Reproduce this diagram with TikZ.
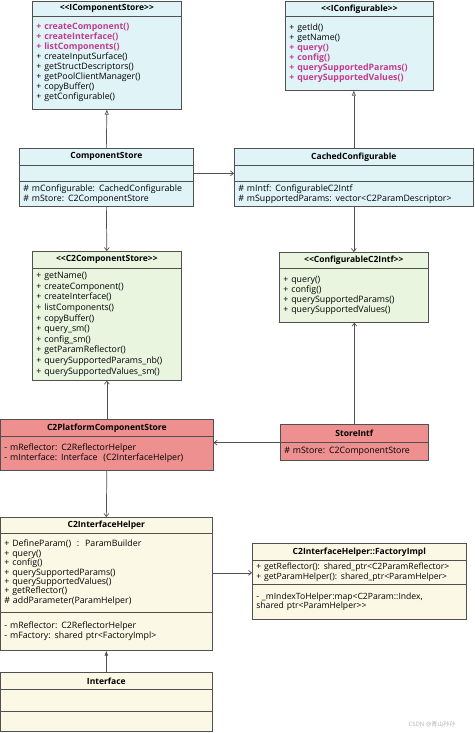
\documentclass[tikz,border=0pt]{standalone}
\usepackage{fontspec}
\setmainfont{Open Sans}
\newfontfamily\cjkfont{Noto Sans CJK SC}
\usetikzlibrary{arrows.meta}

\definecolor{cyanfill}{HTML}{E0F4F7}
\definecolor{greenfill}{HTML}{E9F5DF}
\definecolor{redfill}{HTML}{EE9090}
\definecolor{creamfill}{HTML}{FCF8E6}
\definecolor{boxline}{HTML}{505050}
\definecolor{pinktext}{HTML}{C43A8E}
\newcommand{\pk}[1]{\textcolor{pinktext}{\bfseries #1}}
\newcommand{\cln}{:\hspace{0.45em}}

\begin{document}
\begin{tikzpicture}[x=1pt,y=-1pt,
  box/.style={draw=boxline,line width=0.7pt,anchor=north west,inner xsep=4pt,inner ysep=0pt,
    align=left,font=\fontsize{8.8}{10}\selectfont},
  hd/.style={box,align=center,font=\fontsize{8.5}{10}\selectfont\bfseries},
  cy/.style={fill=cyanfill},
  gr/.style={fill=greenfill},
  rd/.style={fill=redfill},
  cr/.style={fill=creamfill},
  link/.style={draw=boxline,line width=0.7pt},
  impl/.style={link,-{Triangle[open,length=5pt,width=4pt]}},
  assoc/.style={link,-{Straight Barb[length=3pt,width=5pt]}},
  comp/.style={link,-{Latex[length=5pt,width=4pt]}}]
\useasboundingbox (0,0) rectangle (474,733);

% top row: interfaces
\node[hd,cy,text width=141pt,minimum height=15pt] (icst) at (32,1) {<{}<IComponentStore>{}>};
\node[box,cy,text width=141pt,minimum height=93pt] (icsb) at (32,16) {\pk{+ createComponent()}\\\pk{+ createInterface()}\\\pk{+ listComponents()}\\+ createInputSurface()\\+ getStructDescriptors()\\+ getPoolClientManager()\\+ copyBuffer()\\+ getConfigurable()};

\node[hd,cy,text width=140pt,minimum height=15pt] (icft) at (285,1) {<{}<IConfigurable>{}>};
\node[box,cy,text width=140pt,minimum height=74pt] (icfb) at (285,16) {+ getId()\\+ getName()\\\pk{+ query()}\\\pk{+ config()}\\\pk{+ querySupportedParams()}\\\pk{+ querySupportedValues()}};

% stores
\node[hd,cy,text width=166pt,minimum height=17pt] (cst) at (19,148) {ComponentStore};
\node[box,cy,text width=166pt,minimum height=16pt] (csm) at (19,165) {};
\node[box,cy,text width=166pt,minimum height=25pt] (csa) at (19,181) {\# mConfigurable\cln CachedConfigurable\\\# mStore\cln C2ComponentStore};

\node[hd,cy,text width=231pt,minimum height=17pt] (cct) at (234,148) {CachedConfigurable};
\node[box,cy,text width=231pt,minimum height=16pt] (ccm) at (234,165) {};
\node[box,cy,text width=231pt,minimum height=25pt] (cca) at (234,181) {\# mIntf\cln ConfigurableC2Intf\\\# mSupportedParams\cln vector<C2ParamDescriptor>};

% C2 interfaces
\node[hd,gr,text width=141pt,minimum height=17pt] (c2cst) at (32,251) {<{}<C2ComponentStore>{}>};
\node[box,gr,text width=141pt,minimum height=112pt,font=\fontsize{8.8}{10.6}\selectfont] (c2csb) at (32,268) {+ getName()\\+ createComponent()\\+ createInterface()\\+ listComponents()\\+ copyBuffer()\\+ query\_sm()\\+ config\_sm()\\+ getParamReflector()\\+ querySupportedParams\_nb()\\+ querySupportedValues\_sm()};

\node[hd,gr,text width=141pt,minimum height=16pt] (cfit) at (279,252) {<{}<ConfigurableC2Intf>{}>};
\node[box,gr,text width=141pt,minimum height=54pt] (cfib) at (279,268) {+ query()\\+ config()\\+ querySupportedParams()\\+ querySupportedValues()};

% platform store
\node[hd,rd,text width=205pt,minimum height=17pt] (c2pt) at (0,419) {C2PlatformComponentStore};
\node[box,rd,text width=205pt,minimum height=34pt] (c2pa) at (0,436) {- mReflector\cln C2ReflectorHelper\\- mInterface\cln Interface\ \ (C2InterfaceHelper)};

\node[hd,rd,text width=140pt,minimum height=18pt] (sit) at (280,424) {StoreIntf};
\node[box,rd,text width=140pt,minimum height=18pt] (sia) at (280,442) {\# mStore\cln C2ComponentStore};

% helpers
\node[hd,cr,text width=204pt,minimum height=16pt] (c2iht) at (0,517) {C2InterfaceHelper};
\node[box,cr,text width=204pt,minimum height=79pt,font=\fontsize{8.8}{9.4}\selectfont] (c2ihm) at (0,533) {+ DefineParam()\ \ :\ \ ParamBuilder\\+ query()\\+ config()\\+ querySupportedParams()\\+ querySupportedValues()\\+ getReflector()\\\# addParameter(ParamHelper)};
\node[box,cr,text width=204pt,minimum height=38pt] (c2iha) at (0,612) {- mReflector\cln C2ReflectorHelper\\- mFactory\cln shared ptr<FactoryImpl>};

\node[hd,cr,text width=206pt,minimum height=17pt] (fit) at (252,543) {C2InterfaceHelper::FactoryImpl};
\node[box,cr,text width=206pt,minimum height=24pt,font=\fontsize{8.6}{9.4}\selectfont] (fim) at (252,560) {+ getReflector()\cln shared\_ptr<C2ParamReflector>\\+ getParamHelper()\cln shared\_ptr<ParamHelper>};
\node[box,cr,text width=206pt,minimum height=35pt,font=\fontsize{8.6}{9.6}\selectfont] (fia) at (252,584) {- \_mIndexToHelper:map<C2Param::Index,\\shared ptr<ParamHelper>{}>};

\node[hd,cr,text width=204pt,minimum height=17pt] (int) at (0,672) {Interface};
\node[box,cr,text width=204pt,minimum height=22pt] (inm) at (0,689) {};
\node[box,cr,text width=204pt,minimum height=20pt] (ina) at (0,711) {};

% connectors
\draw[impl] (cst.north) -- (icsb.south);
\draw[impl] (cct.north) -- (cct.north |- icfb.south);
\draw[assoc] (csm.east) -- (ccm.west);
\draw[assoc] (csa.south) -- (c2cst.north);
\draw[assoc] (cca.south) -- (cfit.north);
\draw[assoc] (c2pt.north) -- (c2csb.south);
\draw[assoc] (sit.north) -- (sit.north |- cfib.south);
\draw[assoc] (sit.south west) -- (sit.south west -| c2pa.east);
\draw[assoc] (c2pa.south) -- (c2iht.north);
\draw[assoc] (c2ihm.east) -- (c2ihm.east -| fim.west);
\draw[comp] (int.north) -- (c2iha.south);

\node[text=black!30,font=\fontsize{6}{7}\selectfont] (wm) at (432,724) {CSDN @{\cjkfont 青山孙孙}};
\end{tikzpicture}
\end{document}
